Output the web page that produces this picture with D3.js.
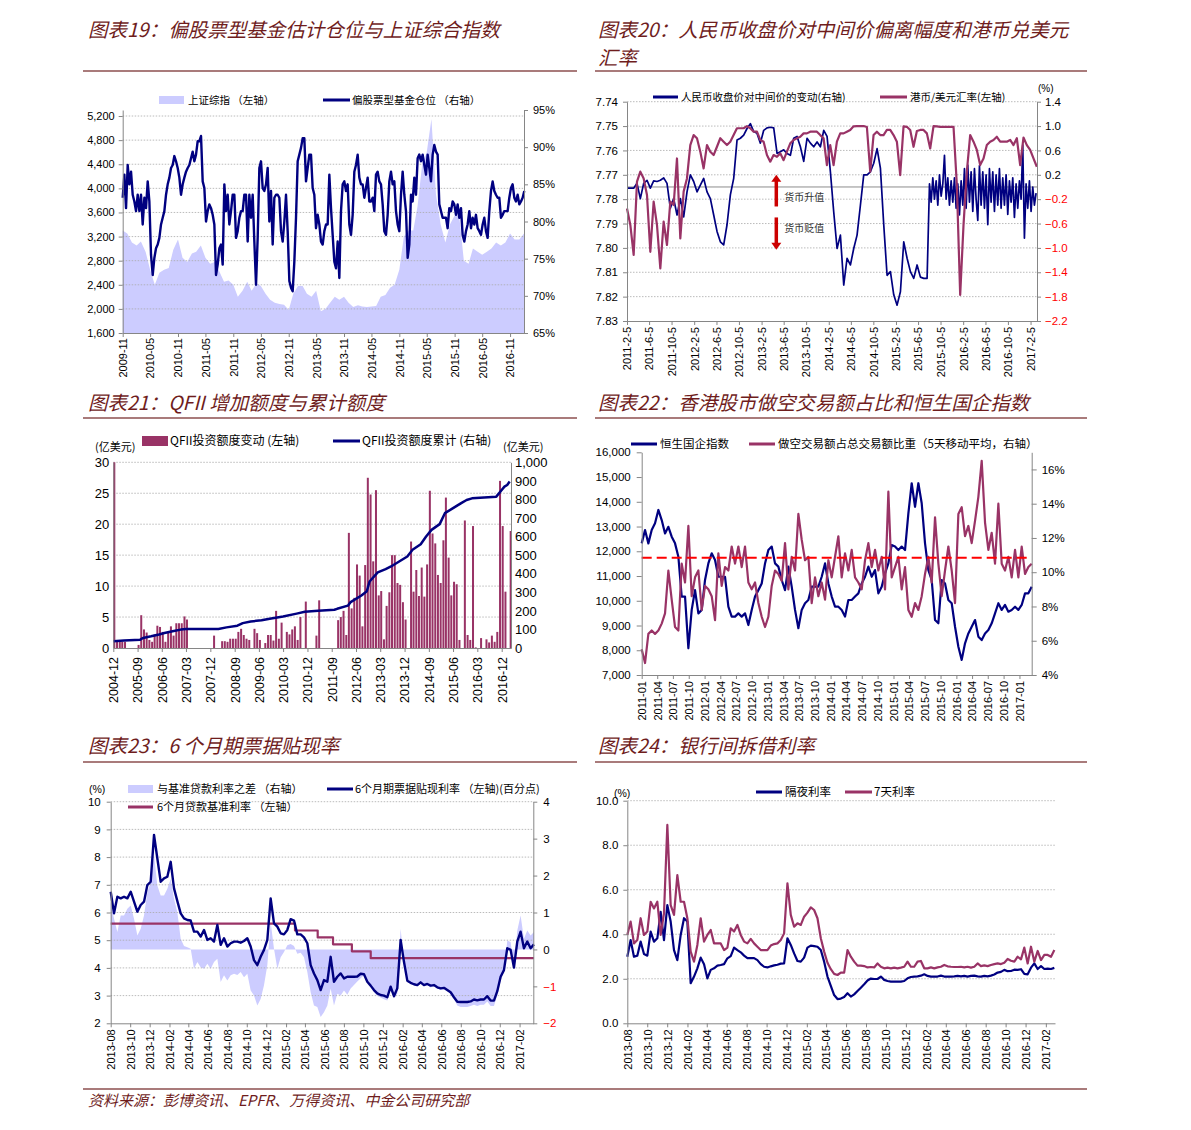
<!DOCTYPE html>
<html><head><meta charset="utf-8">
<script src="https://cdn.jsdelivr.net/npm/d3@7"></script>
<style>body{margin:0;background:#fff}svg{display:block}</style>
</head><body><svg id="c" width="1191" height="1130"></svg>
<script>
// ---------------- DATA ----------------
// Chart 19
const c19XTicks = ["2009-11","2010-05","2010-11","2011-05","2011-11","2012-05","2012-11","2013-05","2013-11","2014-05","2014-11","2015-05","2015-11","2016-05","2016-11"];
const c19LeftTicks = [1600,2000,2400,2800,3200,3600,4000,4400,4800,5200];
const c19RightTicks = [65,70,75,80,85,90,95];
const c19IndexStart = "2009-11";
const c19Index = [3300,3250,3100,3050,3120,2950,2650,2400,2600,2650,2680,2980,3150,2850,2780,2920,2950,3050,2850,2750,2780,2620,2450,2470,2400,2200,2300,2450,2300,2420,2380,2250,2150,2100,2080,2070,1980,2250,2380,2380,2250,2200,2300,1960,2000,2100,2200,2150,2200,2100,2030,2060,2040,2030,2040,2050,2200,2230,2350,2400,2650,3200,3300,3300,3700,4400,4600,5150,3900,3400,3100,3400,3550,3550,2800,2750,3000,2950,2900,2950,3000,3100,3050,3100,3250,3150,3150,3250];
const c19FundStart = "2009-11-01", c19FundEnd = "2017-02-03";
const c19Fund = [83.2,86.3,81.8,87.6,85.0,86.7,83.6,82.7,81.4,83.6,81.4,83.6,79.6,83.2,81.8,85.4,82.7,75.5,72.8,75.1,76.4,76.9,77.8,79.6,80.5,81.4,83.6,85.0,85.9,87.2,87.6,88.8,88.1,87.2,85.9,83.6,85.0,85.9,86.7,87.2,87.6,88.5,89.4,88.1,89.0,90.8,90.8,91.5,85.4,84.5,80.0,81.4,82.3,81.8,80.9,79.6,72.8,74.2,76.4,76.9,74.2,85.0,81.4,83.6,79.6,81.4,83.6,83.6,77.8,78.7,80.5,81.4,81.4,83.6,83.6,77.3,83.6,80.5,83.6,77.3,71.5,77.8,87.2,88.1,84.5,84.1,85.0,87.2,80.0,84.1,76.9,83.2,83.6,83.6,83.2,78.7,77.3,80.0,83.6,78.7,72.0,71.1,70.6,74.6,80.5,88.1,89.0,89.9,91.2,91.2,85.4,87.2,89.0,89.0,84.5,83.6,79.1,80.9,79.6,77.3,76.9,78.7,79.6,79.6,86.3,81.8,78.2,74.6,73.7,77.3,72.4,81.4,85.0,85.4,84.1,85.0,79.6,78.2,80.9,86.7,87.6,89.0,85.9,85.0,85.0,83.2,84.5,85.9,82.7,82.7,83.2,81.4,86.3,86.7,85.4,85.0,82.3,78.7,78.2,80.9,85.4,86.7,85.0,85.4,81.4,79.6,78.7,83.6,86.7,83.6,81.4,75.1,76.9,83.6,82.7,85.9,83.6,88.5,89.0,88.1,89.0,87.6,86.3,89.0,87.2,85.4,89.0,90.3,89.4,89.0,82.3,81.4,80.5,80.5,80.5,79.1,81.8,81.4,82.7,82.3,80.9,82.3,80.5,81.8,78.2,77.3,78.7,79.6,81.4,79.1,80.5,79.6,80.9,79.1,78.7,78.2,79.6,80.5,78.7,77.8,81.4,84.1,85.4,84.1,83.6,83.2,83.2,80.5,80.9,81.4,81.4,81.4,83.2,84.5,85.0,83.2,82.7,83.6,82.3,82.7,83.2,84.1];

// Chart 20
const c20XTicks = ["2011-2-5","2011-6-5","2011-10-5","2012-2-5","2012-6-5","2012-10-5","2013-2-5","2013-6-5","2013-10-5","2014-2-5","2014-6-5","2014-10-5","2015-2-5","2015-6-5","2015-10-5","2016-2-5","2016-6-5","2016-10-5","2017-2-5"];
const c20LeftTicks = [7.74,7.75,7.76,7.77,7.78,7.79,7.80,7.81,7.82,7.83];
const c20RightTicks = [1.4,1.0,0.6,0.2,-0.2,-0.6,-1.0,-1.4,-1.8,-2.2];
const c20Start = "2011-02-05", c20End = "2017-03-11";
const c20Hkd = [7.7838,7.7906,7.8029,7.7728,7.7687,7.7715,7.7783,7.8016,7.7810,7.7906,7.8084,7.7892,7.7988,7.7810,7.7824,7.7633,7.7961,7.7769,7.7715,7.7578,7.7537,7.7550,7.7605,7.7674,7.7578,7.7605,7.7619,7.7585,7.7550,7.7564,7.7578,7.7564,7.7537,7.7509,7.7509,7.7509,7.7500,7.7509,7.7523,7.7523,7.7557,7.7564,7.7619,7.7646,7.7619,7.7626,7.7612,7.7640,7.7605,7.7571,7.7557,7.7550,7.7544,7.7530,7.7530,7.7523,7.7523,7.7523,7.7537,7.7550,7.7660,7.7578,7.7660,7.7564,7.7530,7.7530,7.7523,7.7516,7.7501,7.7500,7.7500,7.7500,7.7504,7.7687,7.7537,7.7523,7.7537,7.7537,7.7516,7.7516,7.7537,7.7564,7.7701,7.7501,7.7503,7.7516,7.7585,7.7520,7.7516,7.7516,7.7530,7.7592,7.7500,7.7501,7.7503,7.7503,7.7503,7.7503,7.7503,7.7742,7.8193,7.7906,7.7687,7.7537,7.7564,7.7598,7.7660,7.7633,7.7578,7.7564,7.7557,7.7544,7.7564,7.7564,7.7564,7.7557,7.7578,7.7550,7.7660,7.7547,7.7578,7.7598,7.7633,7.7667];
const c20RmbAStart = "2011-02-05", c20RmbAEnd = "2015-07-24";
const c20RmbA = [-0.02,-0.02,-0.02,0.06,-0.19,0.06,0.11,-0.02,0.10,0.09,0.11,0.15,0.06,-0.35,-0.19,-0.46,-0.19,-0.49,-0.08,0.20,0.09,-0.08,0.03,0.14,-0.08,-0.19,-0.46,-0.73,-0.90,-0.95,-0.62,-0.13,0.14,0.77,0.80,0.85,0.96,1.04,0.91,0.88,0.72,0.93,0.97,0.98,0.97,0.55,0.58,0.61,0.55,0.52,0.80,0.83,0.66,0.42,0.80,0.72,0.66,0.74,0.66,0.93,0.83,0.25,-0.41,-1.01,-0.79,-1.61,-1.17,-1.28,-1.01,-0.79,-0.30,0.20,0.20,0.25,0.39,0.63,0.31,-0.62,-1.45,-1.39,-1.77,-1.94,-1.72,-0.90,-1.17,-1.39,-1.50,-1.28,-1.48,-1.50,-1.50];
const c20RmbBStart = "2015-08-06", c20RmbBEnd = "2017-03-07";
const c20RmbB = [0.05,-0.25,0.15,-0.20,0.10,-0.30,0.20,-0.15,0.05,0.52,-0.20,0.15,-0.30,0.10,-0.25,0.15,-0.35,0.05,-0.46,0.10,-0.30,0.30,-0.35,0.36,-0.25,0.25,-0.40,0.30,-0.20,-0.55,0.35,-0.30,0.25,-0.35,0.20,-0.62,0.30,-0.25,0.25,-0.40,0.20,-0.30,0.30,-0.35,0.15,-0.30,0.20,-0.45,0.10,-0.25,0.15,-0.50,0.05,-0.35,0.10,-0.20,0.69,-0.84,0.05,-0.35,0.10,-0.40,0.00,-0.30,-0.10];

// Chart 21
const c21XTicks = ["2004-12","2005-09","2006-06","2007-03","2007-12","2008-09","2009-06","2010-03","2010-12","2011-09","2012-06","2013-03","2013-12","2014-09","2015-06","2016-03","2016-12"];
const c21LeftTicks = [0,5,10,15,20,25,30];
const c21RightTicks = [0,100,200,300,400,500,600,700,800,900,1000];
const c21BarStart = "2004-12";
const c21Bars = [30,1.0,1.0,1.0,1.0,0,0,0,0,0.5,5.3,3.0,2.5,1.3,1.0,2.2,3.6,3.4,2.6,1.0,2.6,3.5,2.0,4.0,4.0,4.0,5.1,4.6,0,0,0,0,0,0,0,0,0,2.0,0,0,1.1,1.1,1.0,1.5,1.5,1.5,2.6,3.1,2.1,1.5,1.3,0,3.1,2.4,1.3,0,0.8,2.1,2.1,1.2,6.0,1.5,4.1,0,2.6,2.2,3.0,3.5,1.3,5.0,0,7.5,0,0,0,2.0,7.7,0,0,0,0,0,0,4.5,5.0,6.0,2.1,18.6,6.4,8.1,13.5,11.7,3.5,13.4,27.5,24.8,14.0,25.5,8.5,9.2,1.4,6.8,9.0,15.0,15.0,10.5,10.2,7.4,4.6,0,17.2,9.1,12.6,8.4,13.0,8.3,13.5,25.4,18.5,16.9,11.8,10.5,17.4,24.3,14.6,8.5,10.7,10.3,1.3,0,20.6,2.1,1.3,19.7,0.1,0,1.6,0,1.4,0.9,2.0,1.0,2.6,27.0,19.7,9.1,0,18.9];
const c21CumDates = ["2004-12","2005-04","2005-10","2005-11","2006-02","2006-05","2006-07","2006-10","2007-01","2007-03","2008-03","2008-06","2008-10","2008-12","2009-03","2009-07","2009-10","2010-03","2010-08","2010-11","2011-04","2011-10","2011-11","2012-03","2012-04","2012-08","2012-10","2012-11","2013-02","2013-05","2013-07","2013-10","2014-01","2014-03","2014-06","2014-08","2014-10","2015-01","2015-03","2015-06","2015-09","2015-11","2016-01","2016-10","2016-12","2017-01","2017-02","2017-03"];
const c21Cum = [36,41,45,54,63,73,81,90,99,102,102,111,120,134,143,149,158,170,185,195,201,206,211,228,247,283,306,358,407,425,439,466,493,529,559,600,636,667,726,753,780,797,806,815,851,869,878,896];

// Chart 22
const c22XTicks = ["2011-01","2011-04","2011-07","2011-10","2012-01","2012-04","2012-07","2012-10","2013-01","2013-04","2013-07","2013-10","2014-01","2014-04","2014-07","2014-10","2015-01","2015-04","2015-07","2015-10","2016-01","2016-04","2016-07","2016-10","2017-01"];
const c22LeftTicks = [7000,8000,9000,10000,11000,12000,13000,14000,15000,16000];
const c22RightTicks = [4,6,8,10,12,14,16];
const c22Start = "2011-01-01", c22End = "2017-03-13";
const c22Hscei = [12320,12860,12320,12860,13130,13670,13260,12720,12990,12590,12320,11780,10170,10170,8080,9630,10430,9490,9630,10840,11510,11920,11650,10970,10970,10970,9760,9360,9360,9490,9360,9490,9020,9630,10170,10430,10700,11510,12050,12190,11510,11380,10840,10430,11380,10570,9630,8890,9630,9900,10030,10570,10570,10570,10970,11510,10700,10170,9760,9760,9630,9360,10030,10030,10170,10300,10700,10970,11380,10970,11240,10300,10570,11110,11510,12250,12190,12050,12190,12050,13530,14750,13800,14750,13940,12320,11240,10840,9220,9090,10840,10700,10030,9900,8950,8140,7610,8280,8680,8950,9220,8550,8410,8680,8820,9090,9490,9900,9630,9830,9560,9630,9760,9630,9830,10300,10300,10570];
const c22Short = [5.5,4.7,6.4,6.6,6.4,6.6,7.0,7.6,10.1,8.4,6.8,6.6,10.5,9.4,12.7,8.6,9.7,10.1,7.8,9.2,9.0,8.6,7.2,11.1,9.2,10.3,10.1,11.5,10.5,11.5,10.3,11.5,9.4,9.0,9.4,8.2,7.4,6.8,7.4,9.2,10.1,9.9,9.5,11.7,9.0,10.9,10.1,13.4,11.9,10.7,10.9,8.2,9.7,8.6,9.4,8.4,10.7,9.7,10.9,12.1,9.7,11.1,10.1,11.3,9.7,9.4,9.0,10.7,11.7,10.3,11.3,10.1,10.9,9.0,14.7,9.7,10.3,10.9,9.0,10.3,7.8,7.4,8.2,7.8,8.6,9.9,10.9,9.4,13.2,10.5,8.6,10.1,11.5,10.1,8.2,13.4,13.8,12.1,12.7,11.7,13.0,14.4,16.5,12.9,11.3,12.3,10.5,14.0,10.5,10.1,10.9,9.7,11.3,9.7,11.5,9.9,10.3,10.5];
const c22ShortAvg = 10.85;

// Chart 23
const c23XTicks = ["2013-08","2013-10","2013-12","2014-02","2014-04","2014-06","2014-08","2014-10","2014-12","2015-02","2015-04","2015-06","2015-08","2015-10","2015-12","2016-02","2016-04","2016-06","2016-08","2016-10","2016-12","2017-02"];
const c23LeftTicks = [2,3,4,5,6,7,8,9,10];
const c23RightTicks = [-2,-1,0,1,2,3,4];
const c23Start = "2013-08-01", c23End = "2017-03-18";
const c23Bill = [6.75,5.97,6.57,6.51,6.57,6.51,6.75,6.39,6.03,6.27,6.39,6.99,7.11,8.80,7.95,7.11,7.23,7.29,7.83,6.87,6.41,5.97,5.79,5.73,5.71,5.31,5.31,5.13,5.37,5.01,5.07,4.95,5.55,4.83,5.07,4.77,4.89,4.95,4.95,4.91,4.97,5.07,4.77,4.28,4.10,4.40,4.65,5.01,6.51,5.61,5.49,5.25,5.21,5.37,5.76,5.71,5.21,5.21,5.10,4.89,4.10,3.80,3.56,3.20,3.56,3.50,4.40,3.50,3.68,3.80,3.62,3.68,3.68,3.68,3.69,3.79,3.77,3.50,3.36,3.20,3.08,3.02,3.00,2.94,3.32,2.98,3.26,5.01,4.22,3.54,3.46,3.41,3.38,3.48,3.38,3.42,3.36,3.38,3.30,3.26,3.28,3.20,3.12,2.94,2.78,2.77,2.77,2.77,2.79,2.86,2.83,2.86,2.86,2.98,2.82,2.82,3.16,3.68,3.92,4.71,4.65,4.01,4.95,5.31,4.71,4.95,4.71,4.85];
const c23Spread = [1.28,0.83,0.47,0.92,0.92,1.10,1.19,0.83,0.38,0.56,0.92,1.55,1.82,2.55,1.73,1.46,1.46,1.64,1.91,1.37,1.01,0.29,0.09,0.06,0.02,-0.52,-0.34,-0.48,-0.52,-0.39,-0.52,-0.34,-0.25,-0.88,-0.70,-0.84,-0.70,-0.66,-0.69,-0.61,-0.75,-0.66,-1.11,-1.25,-1.52,-1.34,-0.97,-0.43,0.74,0.02,-0.52,-0.21,-0.07,0.11,0.15,0.09,-0.12,-0.09,-0.21,-0.61,-1.16,-1.52,-1.56,-1.83,-1.70,-1.52,-1.06,-1.52,-1.20,-1.25,-1.11,-1.23,-1.06,-0.96,-0.87,-0.78,-0.69,-0.84,-1.02,-1.16,-1.26,-1.30,-1.35,-1.38,-1.11,-1.32,-1.20,0.56,-0.39,-0.88,-0.93,-0.97,-0.99,-0.93,-0.99,-0.97,-1.03,-0.99,-1.06,-1.10,-1.08,-1.14,-1.20,-1.34,-1.52,-1.56,-1.56,-1.56,-1.53,-1.50,-1.53,-1.50,-1.50,-1.41,-1.53,-1.53,-1.25,-0.84,-0.61,0.24,0.20,-0.48,0.51,0.92,0.29,0.51,0.38,0.47];
const c23BenchDates = ["2013-08-01","2015-03-01","2015-05-11","2015-06-28","2015-08-26","2015-10-24","2017-03-18"];
const c23Bench = [5.6,5.35,5.1,4.85,4.6,4.35,4.35];

// Chart 24
const c24XTicks = c23XTicks;
const c24LeftTicks = [0,2,4,6,8,10];
const c24Start = "2013-08-01", c24End = "2017-02-27";
const c24Overnight = [2.99,3.74,2.99,3.04,3.67,3.11,3.04,4.12,3.67,3.82,5.01,3.74,5.31,4.57,3.29,2.84,3.97,4.72,4.57,1.80,2.10,2.47,2.95,2.65,2.02,2.40,2.47,2.59,2.62,2.66,2.92,3.02,3.40,3.29,3.19,3.04,2.93,2.93,2.93,2.84,2.66,2.54,2.51,2.56,2.60,2.63,2.68,2.69,3.82,3.52,3.14,2.80,2.77,2.95,3.40,3.49,3.47,3.44,3.29,2.77,2.10,1.68,1.27,1.09,1.11,1.18,1.35,1.20,1.30,1.45,1.60,1.75,1.92,2.01,1.99,1.99,2.10,1.95,1.90,1.87,1.87,1.87,1.87,1.90,2.02,2.08,2.10,2.11,2.14,2.20,2.13,2.10,2.10,2.10,2.14,2.10,2.10,2.10,2.11,2.13,2.11,2.13,2.10,2.13,2.14,2.11,2.10,2.13,2.11,2.14,2.19,2.28,2.31,2.40,2.34,2.35,2.41,2.40,2.43,2.22,2.20,2.50,2.69,2.44,2.57,2.44,2.46,2.44,2.49];
const c24Week = [3.97,4.57,3.59,3.74,4.72,3.97,4.12,5.46,5.16,5.46,3.97,4.94,8.91,5.31,4.87,6.66,5.46,5.46,4.72,3.22,2.77,3.52,4.72,3.67,3.97,4.19,3.59,3.59,3.59,3.29,3.40,4.27,4.12,4.42,3.97,3.67,3.59,3.79,3.59,3.44,3.29,3.29,3.29,3.49,3.56,3.59,3.74,4.04,6.29,4.87,4.34,4.49,4.42,4.79,4.97,5.21,5.09,4.72,3.82,3.22,2.72,2.43,2.22,2.17,2.28,2.28,3.29,2.99,2.77,2.59,2.59,2.57,2.51,2.53,2.51,2.69,2.54,2.47,2.50,2.47,2.50,2.47,2.50,2.54,2.77,2.54,2.54,2.77,2.80,2.47,2.47,2.51,2.47,2.51,2.54,2.62,2.56,2.54,2.53,2.53,2.54,2.51,2.54,2.50,2.54,2.69,2.57,2.60,2.57,2.62,2.66,2.69,2.66,2.72,2.89,2.81,2.77,2.99,2.87,3.40,2.69,3.44,2.77,3.25,2.84,3.07,3.07,2.99,3.29];

// ---------------- HELPERS ----------------
const svg = d3.select('#c');
svg.append('rect').attr('width',1191).attr('height',1130).attr('fill','#fff');
const FONT = '"Liberation Sans", Arial, sans-serif';
const CJK = '"Noto Sans CJK SC", "Noto Sans", sans-serif';
const NAVY = '#000080', PLUM = '#993366', LAV = '#ccccff', TITLEC = '#6f1d1d', RULEC = '#a97b7b', AX = '#868686';
const pM = d3.timeParse('%Y-%m'), pD = d3.timeParse('%Y-%m-%d');

function uni(start, end, vals){ const a = +pD(start), b = +pD(end); return vals.map((v,i)=>({d:new Date(a+(b-a)*i/(vals.length-1)), v})); }
function monthly(start, vals){ const s = pM(start); return vals.map((v,i)=>({d:d3.timeMonth.offset(s,i), v})); }

function title(x, y, lines){
  lines.forEach((t,i)=> svg.append('text').attr('x',x).attr('y',y+i*28).text(t)
    .attr('font-family',CJK).attr('font-size',19.5).attr('font-style','italic').attr('fill',TITLEC));
}
function rule(x1,x2,y){ svg.append('line').attr('x1',x1).attr('x2',x2).attr('y1',y).attr('y2',y).attr('stroke',RULEC).attr('stroke-width',2); }
function styleAxis(g, fs){
  g.attr('font-family',FONT).attr('font-size',fs);
  g.select('.domain').attr('stroke',AX);
  g.selectAll('.tick line').attr('stroke',AX);
  g.selectAll('.tick text').attr('fill','#000');
  return g;
}
function grid(y, ticks, x0, x1){
  svg.append('g').selectAll('line').data(ticks).join('line')
    .attr('x1',x0).attr('x2',x1).attr('y1',d=>y(d)).attr('y2',d=>y(d))
    .attr('stroke','#aaaaaa').attr('stroke-width',0.8).attr('stroke-dasharray','1.5,1.5');
}
function xAxisRot(x, y0, labels, parse, fs, pad){
  const vals = labels.map(parse);
  const g = svg.append('g').attr('transform',`translate(0,${y0})`)
    .call(d3.axisBottom(x).tickValues(vals).tickFormat((d,i)=>labels[i]).tickSize(4).tickSizeOuter(0));
  styleAxis(g, fs);
  g.selectAll('.tick text').attr('transform','rotate(-90)').attr('x',-pad).attr('y',0).attr('dy','0.35em').attr('text-anchor','end');
  return g;
}
function yAxis(side, scale, x0, ticks, fmt, fs, tsize, pad){
  const ax = (side==='left'?d3.axisLeft(scale):d3.axisRight(scale)).tickValues(ticks).tickFormat(fmt).tickSize(tsize).tickSizeOuter(0).tickPadding(pad);
  const g = svg.append('g').attr('transform',`translate(${x0},0)`).call(ax);
  return styleAxis(g, fs);
}
function legLine(x1,x2,y,c,w){ svg.append('line').attr('x1',x1).attr('x2',x2).attr('y1',y).attr('y2',y).attr('stroke',c).attr('stroke-width',w||3); }
function legRect(x1,x2,y,c,h){ h=h||9; svg.append('rect').attr('x',x1).attr('y',y-h/2).attr('width',x2-x1).attr('height',h).attr('fill',c); }
function legText(x,y,t,fs){ svg.append('text').attr('x',x).attr('y',y).attr('dy','0.36em').text(t).attr('font-family',CJK).attr('font-size',fs||10.5).attr('fill','#000'); }
function path(data, x, y, color, w, curve){
  const l = d3.line().x(d=>x(d.d)).y(d=>y(d.v));
  if (curve) l.curve(curve);
  svg.append('path').datum(data).attr('d',l).attr('fill','none').attr('stroke',color).attr('stroke-width',w).attr('stroke-linejoin','round');
}

// ---------------- TITLES ----------------
title(88, 37, ["图表19：偏股票型基金估计仓位与上证综合指数"]);
title(598, 37, ["图表20：人民币收盘价对中间价偏离幅度和港币兑美元","汇率"]);
rule(83,577,71); rule(595,1087,71);
title(88, 410, ["图表21：QFII 增加额度与累计额度"]);
title(598, 410, ["图表22：香港股市做空交易额占比和恒生国企指数"]);
rule(83,577,418); rule(595,1087,418);
title(88, 753, ["图表23：6 个月期票据贴现率"]);
title(598, 753, ["图表24：银行间拆借利率"]);
rule(83,577,762); rule(595,1087,762);
rule(83,1087,1089);
svg.append('text').attr('x',88).attr('y',1106).text('资料来源：彭博资讯、EPFR、万得资讯、中金公司研究部')
  .attr('font-family',CJK).attr('font-size',15).attr('font-style','italic').attr('fill',TITLEC);

// ---------------- CHART 19 ----------------
{
  const X0=122.7, X1=524, Y0=333, Y1=110;
  const x = d3.scaleTime().domain([pM('2009-11'), pM('2017-02')]).range([X0,X1]);
  const yL = d3.scaleLinear().domain([1600,5300]).range([Y0,Y1]);
  const yR = d3.scaleLinear().domain([65,95]).range([Y0,Y1]);
  const idx = monthly(c19IndexStart, c19Index);
  svg.append('path').datum(idx).attr('fill',LAV)
    .attr('d', d3.area().x(d=>x(d.d)).y0(yL(1600)).y1(d=>yL(d.v)));
  grid(yL, c19LeftTicks.slice(1), X0, X1);
  path(uni(c19FundStart, c19FundEnd, c19Fund), x, yR, NAVY, 2.4);
  yAxis('left', yL, X0, c19LeftTicks, d3.format(','), 11, 4, 4);
  yAxis('right', yR, X1, c19RightTicks, d=>d+'%', 11, 4, 5);
  xAxisRot(x, Y0, c19XTicks, pM, 11, 5);
  legRect(159,184,100,LAV,8); legText(188,100,'上证综指 （左轴）');
  legLine(323,350,100,NAVY,3); legText(352,100,'偏股票型基金仓位 （右轴）');
}

// ---------------- CHART 20 ----------------
{
  const X0=627, X1=1037, Y0=321, Y1=101.7;
  const x = d3.scaleTime().domain([pD('2011-02-05'), pD('2017-03-12')]).range([X0,X1]);
  const yL = d3.scaleLinear().domain([7.74,7.83]).range([Y1,Y0]);
  const yR = d3.scaleLinear().domain([-2.2,1.4]).range([Y0,Y1]);
  grid(yL, c20LeftTicks.slice(0,-1), X0, X1);
  svg.append('line').attr('x1',X0).attr('x2',X1).attr('y1',yR(0)).attr('y2',yR(0)).attr('stroke','#8c8c8c').attr('stroke-width',1);
  const rmb = uni(c20RmbAStart, c20RmbAEnd, c20RmbA).concat(uni(c20RmbBStart, c20RmbBEnd, c20RmbB));
  path(rmb, x, yR, NAVY, 1.7);
  path(uni(c20Start, c20End, c20Hkd), x, yL, PLUM, 2.2);
  const ax = x(pD('2013-04-26'));
  const arrow = (yFrom, yTip) => {
    const dir = yTip < yFrom ? -1 : 1;
    svg.append('line').attr('x1',ax).attr('x2',ax).attr('y1',yFrom).attr('y2',yTip - dir*6).attr('stroke','#cc0000').attr('stroke-width',3.5);
    svg.append('path').attr('d',`M${ax-5},${yTip-dir*7}L${ax+5},${yTip-dir*7}L${ax},${yTip}Z`).attr('fill','#cc0000');
  };
  arrow(yR(-0.32), yR(0.2));
  arrow(yR(-0.5), yR(-1.03));
  svg.append('text').attr('x',ax+8).attr('y',yR(-0.17)).attr('dy','0.35em').text('货币升值').attr('font-family',CJK).attr('font-size',10).attr('fill','#333');
  svg.append('text').attr('x',ax+8).attr('y',yR(-0.68)).attr('dy','0.35em').text('货币贬值').attr('font-family',CJK).attr('font-size',10).attr('fill','#333');
  yAxis('left', yL, X0, c20LeftTicks, d3.format('.2f'), 11.5, 4, 5);
  const gr = yAxis('right', yR, X1, c20RightTicks, d3.format('.1f'), 11.5, 4, 4);
  gr.selectAll('.tick text').attr('fill', d => d < 0 ? '#ff0000' : '#000');
  svg.append('text').attr('x',X1+1).attr('y',Y1-13).attr('dy','0.35em').text('(%)').attr('font-family',FONT).attr('font-size',10);
  xAxisRot(x, Y0, c20XTicks, pD, 11, 6);
  legLine(653,678,97,NAVY,3); legText(681,97,'人民币收盘价对中间价的变动(右轴)');
  legLine(880,907,97,PLUM,3); legText(910,97,'港币/美元汇率(左轴)');
}

// ---------------- CHART 21 ----------------
{
  const X0=113.3, X1=511, Y0=648, Y1=462.3;
  const x = d3.scaleTime().domain([pM('2004-12'), pD('2017-03-16')]).range([X0,X1]);
  const yL = d3.scaleLinear().domain([0,30]).range([Y0,Y1]);
  const yR = d3.scaleLinear().domain([0,1000]).range([Y0,Y1]);
  grid(yL, c21LeftTicks.slice(1), X0, X1);
  svg.append('g').selectAll('rect').data(monthly(c21BarStart, c21Bars)).join('rect')
    .attr('x', d=>x(d.d)).attr('width',2).attr('y', d=>yL(d.v)).attr('height', d=>yL(0)-yL(d.v))
    .attr('fill',PLUM);
  path(c21CumDates.map((s,i)=>({d:pM(s), v:c21Cum[i]})), x, yR, NAVY, 2.5);
  yAxis('left', yL, X0, c21LeftTicks, d3.format('d'), 13, 0, 4);
  yAxis('right', yR, X1, c21RightTicks, d3.format(','), 13, 0, 4);
  xAxisRot(x, Y0, c21XTicks, pM, 12.5, 9);
  legRect(142,168,441,PLUM,10); legText(170,441,'QFII投资额度变动 (左轴)',12);
  legLine(333,360,441,NAVY,3); legText(362,441,'QFII投资额度累计 (右轴)',12);
  legText(95,447,'(亿美元)',11); legText(503,447,'(亿美元)',11);
}

// ---------------- CHART 22 ----------------
{
  const X0=641.7, X1=1031.7, Y0=675, Y1=452.3;
  const x = d3.scaleTime().domain([pD('2011-01-01'), pD('2017-03-13')]).range([X0,X1]);
  const yL = d3.scaleLinear().domain([7000,16000]).range([Y0,Y1]);
  const yR = d3.scaleLinear().domain([4,17]).range([Y0,Y1]);
  path(uni(c22Start, c22End, c22Hscei), x, yL, NAVY, 2.2);
  path(uni(c22Start, c22End, c22Short), x, yR, PLUM, 2.2);
  svg.append('line').attr('x1',X0).attr('x2',X1).attr('y1',yR(c22ShortAvg)).attr('y2',yR(c22ShortAvg))
    .attr('stroke','#ff0000').attr('stroke-width',2).attr('stroke-dasharray','10,5');
  yAxis('left', yL, X0, c22LeftTicks, d3.format(','), 11.5, 5, 6);
  yAxis('right', yR, X1, c22RightTicks, d=>d+'%', 11.5, 5, 5);
  xAxisRot(x, Y0, c22XTicks, pM, 11, 6);
  legLine(631,657,444,NAVY,3); legText(660,444,'恒生国企指数',11.5);
  legLine(749,775,444,PLUM,3); legText(778,444,'做空交易额占总交易额比重（5天移动平均，右轴）',11.5);
}

// ---------------- CHART 23 ----------------
{
  const X0=110.7, X1=533.3, Y0=1023.3, Y1=801.7;
  const x = d3.scaleTime().domain([pD('2013-08-01'), pD('2017-03-16')]).range([X0,X1]);
  const yL = d3.scaleLinear().domain([2,10]).range([Y0,Y1]);
  const yR = d3.scaleLinear().domain([-2,4]).range([Y0,Y1]);
  svg.append('path').datum(uni(c23Start, c23End, c23Spread)).attr('fill',LAV)
    .attr('d', d3.area().x(d=>x(d.d)).y0(yR(0)).y1(d=>yR(d.v)));
  grid(yL, c23LeftTicks.slice(1), X0, X1);
  path(c23BenchDates.map((s,i)=>({d:pD(s), v:c23Bench[i]})), x, yL, PLUM, 2.2, d3.curveStepAfter);
  path(uni(c23Start, c23End, c23Bill), x, yL, NAVY, 2.4);
  yAxis('left', yL, X0, c23LeftTicks, d3.format('d'), 11.5, 4, 6);
  const gr = yAxis('right', yR, X1, c23RightTicks, d3.format('d'), 11.5, 4, 6);
  gr.selectAll('.tick text').attr('fill', d => d < 0 ? '#ff0000' : '#000');
  xAxisRot(x, Y0, c23XTicks, pM, 11, 6);
  svg.append('text').attr('x',89).attr('y',789).attr('dy','0.35em').text('(%)').attr('font-family',FONT).attr('font-size',10.5);
  legRect(128,153,789,LAV,8); legText(157,789,'与基准贷款利率之差 （右轴）',11);
  legLine(327,353,789,NAVY,3); legText(355,789,'6个月期票据贴现利率 （左轴)(百分点)',11);
  legLine(128,153,807,PLUM,3); legText(157,807,'6个月贷款基准利率 （左轴）',11);
}

// ---------------- CHART 24 ----------------
{
  const X0=627.3, X1=1055, Y0=1023.3, Y1=800.7;
  const x = d3.scaleTime().domain([pD('2013-08-01'), pD('2017-03-01')]).range([X0,X1]);
  const y = d3.scaleLinear().domain([0,10]).range([Y0,Y1]);
  grid(y, c24LeftTicks.slice(1), X0, X1);
  path(uni(c24Start, c24End, c24Overnight), x, y, NAVY, 2.2);
  path(uni(c24Start, c24End, c24Week), x, y, PLUM, 2.2);
  yAxis('left', y, X0, c24LeftTicks, d3.format('.1f'), 11.5, 4, 5);
  xAxisRot(x, Y0, c24XTicks, pM, 11, 6);
  svg.append('text').attr('x',614).attr('y',793).attr('dy','0.35em').text('(%)').attr('font-family',FONT).attr('font-size',10.5);
  legLine(756,782,792,NAVY,3); legText(785,792,'隔夜利率',11.5);
  legLine(845,872,792,PLUM,3); legText(874,792,'7天利率',11.5);
}
</script></body></html>
